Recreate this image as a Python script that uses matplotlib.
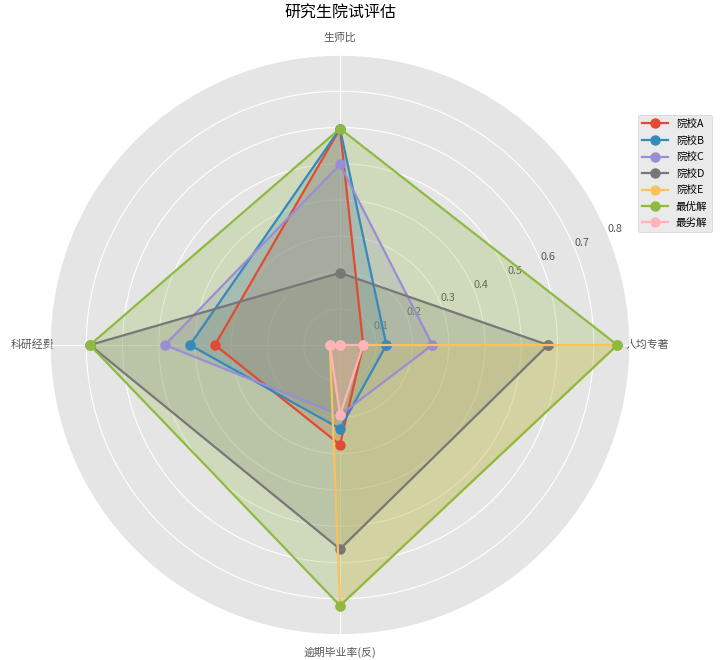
import numpy as np
import matplotlib
matplotlib.use('Agg')
import matplotlib.pyplot as plt

plt.style.use('ggplot')
plt.rcParams['font.family'] = ['Noto Sans CJK SC', 'DejaVu Sans']
plt.rcParams['axes.unicode_minus'] = False

labels = ['人均专著', '生师比', '科研经费', '逾期毕业率(反)']
names = ['院校A', '院校B', '院校C', '院校D', '院校E', '最优解', '最劣解']

# normalised indicator values
school_a = [0.064, 0.597, 0.345, 0.275]
school_b = [0.128, 0.597, 0.414, 0.231]
school_c = [0.255, 0.498, 0.483, 0.193]
school_d = [0.574, 0.199, 0.690, 0.563]
school_e = [0.765, 0.000, 0.028, 0.719]
best = [0.765, 0.597, 0.690, 0.719]
worst = [0.064, 0.000, 0.028, 0.193]
series = [school_a, school_b, school_c, school_d, school_e, best, worst]

angles = np.linspace(0, 2 * np.pi, len(labels), endpoint=False)
angles_closed = np.concatenate((angles, [angles[0]]))

fig = plt.figure(figsize=(7.2, 6.6), dpi=100)
ax = fig.add_axes([50 / 720, 25 / 660, 580 / 720, 580 / 660], polar=True)

for name, vals in zip(names, series):
    v = np.concatenate((vals, [vals[0]]))
    line, = ax.plot(angles_closed, v, 'o-', linewidth=1.6, markersize=6.5, label=name)
    ax.fill(angles_closed, v, color=line.get_color(), alpha=0.25)

ax.set_thetagrids(angles * 180 / np.pi, labels, fontsize=7.8)
ax.set_ylim(0, 0.8)
ticks = np.arange(0.1, 0.81, 0.1)
ax.set_rgrids(ticks, labels=['%.1f' % t for t in ticks], fontsize=7.8)
ax.set_rlabel_position(22.5)
ax.tick_params(axis='x', pad=2)

fig.text(340 / 720, 1 - 13 / 660, '研究生院试评估', fontsize=11.5,
         ha='center', va='center')
ax.legend(loc='upper right', bbox_to_anchor=(1.15, 0.906), fontsize=7.6,
          handlelength=2.4, labelspacing=0.6)

fig.savefig('out.png', dpi=100)
